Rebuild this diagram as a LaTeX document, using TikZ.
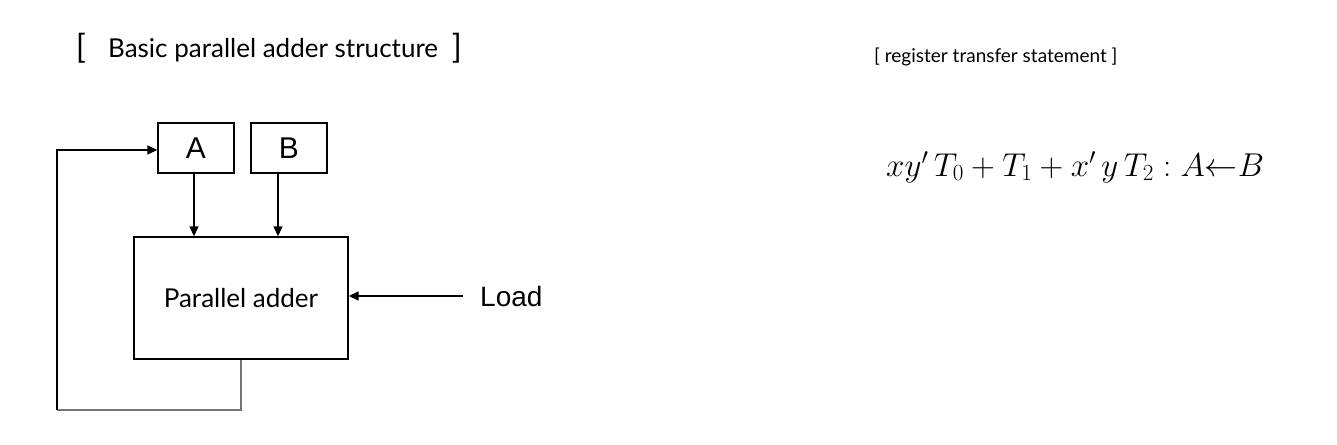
\RequirePackage{fix-cm}
\documentclass[tikz,border=0pt]{standalone}
\usepackage[no-math]{fontspec}
\setmainfont{Lato}
\newfontfamily\gul{Liberation Sans}
\usetikzlibrary{arrows.meta}
\begin{document}
\begin{tikzpicture}[x=1pt,y=-1pt,
  reg/.style={draw,line width=1.4pt,inner sep=0pt,minimum width=76pt,minimum height=50pt,font=\gul\fontsize{30}{32}\selectfont},
  conn/.style={line width=1.4pt},
  arr/.style={conn,-{Triangle[length=10pt,width=9pt]}},
  gconn/.style={line width=1.4pt,draw=black!55}]
\useasboundingbox (0,0) rectangle (1337,444);
% titles
\node[anchor=base west,inner sep=0pt,font=\fontsize{26}{28}\selectfont] (t1) at (108,57) {Basic parallel adder structure};
\node[inner sep=0pt,font=\fontsize{33}{35}\selectfont] (lb) at (81,48) {[};
\node[inner sep=0pt,font=\fontsize{33}{35}\selectfont] (rb) at (457,48) {]};
\node[anchor=base west,inner sep=0pt,font=\fontsize{19}{21}\selectfont] (t2) at (874,63) {[ register transfer statement ]};
% formula
\node[anchor=base west,inner sep=0pt,font=\fontsize{33}{35}\selectfont] (f) at (886,176) {$xy'\,T_0+T_1+x'\,y\,T_2: A{\leftarrow}B$};
% registers
\node[reg] (A) at (196,148) {A};
\node[reg] (B) at (289,148) {B};
\node[draw,line width=1.4pt,inner sep=0pt,minimum width=214pt,minimum height=122pt,font=\fontsize{26}{28}\selectfont] (add) at (241,298) {Parallel adder};
% arrows into adder
\draw[arr] ([xshift=-2pt]A.south) -- ([xshift=-2pt]A.south |- add.north);
\draw[arr] ([xshift=-11pt]B.south) -- ([xshift=-11pt]B.south |- add.north);
% load
\node[anchor=west,inner sep=0pt,font=\gul\fontsize{28}{30}\selectfont] (load) at (480,296) {Load};
\coordinate (ls) at (463,296);
\draw[arr] (ls) -- (ls -| add.east);
% feedback
\coordinate (fb) at (57,410);
\draw[gconn] (add.south) |- (fb);
\draw[arr] (fb) |- ([yshift=-2pt]A.west);
\end{tikzpicture}
\end{document}
